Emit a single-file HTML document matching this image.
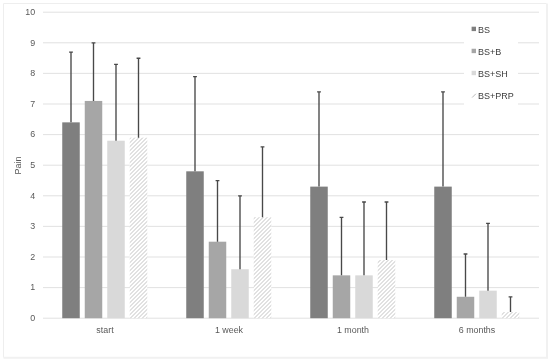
<!DOCTYPE html>
<html><head><meta charset="utf-8"><title>Pain chart</title>
<style>
html,body{margin:0;padding:0;background:#fff;}
svg{display:block;font-family:"Liberation Sans",Arial,sans-serif;}
</style></head><body>
<svg width="550" height="361" viewBox="0 0 550 361">
<defs>
<pattern id="h" width="4" height="4" patternUnits="userSpaceOnUse" patternTransform="translate(0.5 0)">
<rect width="4" height="4" fill="#fff"/>
<path d="M-1,1 l2,-2 M0,4 l4,-4 M3,5 l2,-2" stroke="#b2b2b2" stroke-width="0.8" fill="none"/>
</pattern>
</defs>
<rect width="550" height="361" fill="#fff"/>
<path d="M3.5,357.5 V3.5 H546.5" fill="none" stroke="#eeeeee" stroke-width="1"/>
<path d="M547,3.5 V357.7 H3.5" fill="none" stroke="#f1f1f1" stroke-width="2"/>

<g stroke="#dedede" stroke-width="0.9">
<line x1="43" y1="318.20" x2="539" y2="318.20"/>
<line x1="43" y1="287.60" x2="539" y2="287.60"/>
<line x1="43" y1="257.00" x2="539" y2="257.00"/>
<line x1="43" y1="226.40" x2="539" y2="226.40"/>
<line x1="43" y1="195.80" x2="539" y2="195.80"/>
<line x1="43" y1="165.20" x2="539" y2="165.20"/>
<line x1="43" y1="134.60" x2="539" y2="134.60"/>
<line x1="43" y1="104.00" x2="539" y2="104.00"/>
<line x1="43" y1="73.40" x2="539" y2="73.40"/>
<line x1="43" y1="42.80" x2="539" y2="42.80"/>
<line x1="43" y1="12.20" x2="539" y2="12.20"/>
</g>
<rect x="464" y="20" width="54" height="100" fill="#fff"/>
<g font-size="8.9" fill="#595959" text-anchor="end">
<text x="35.2" y="320.90">0</text>
<text x="35.2" y="290.30">1</text>
<text x="35.2" y="259.70">2</text>
<text x="35.2" y="229.10">3</text>
<text x="35.2" y="198.50">4</text>
<text x="35.2" y="167.90">5</text>
<text x="35.2" y="137.30">6</text>
<text x="35.2" y="106.70">7</text>
<text x="35.2" y="76.10">8</text>
<text x="35.2" y="45.50">9</text>
<text x="35.2" y="14.90">10</text>
</g>
<text font-size="8.9" fill="#595959" text-anchor="middle" transform="translate(20.8 165.5) rotate(-90)">Pain</text>
<rect x="62.25" y="122.36" width="17.5" height="195.84" fill="#7f7f7f"/>
<rect x="84.75" y="100.94" width="17.5" height="217.26" fill="#a6a6a6"/>
<rect x="107.25" y="140.72" width="17.5" height="177.48" fill="#d9d9d9"/>
<rect x="129.75" y="137.66" width="17.5" height="180.54" fill="url(#h)"/>
<rect x="186.25" y="171.32" width="17.5" height="146.88" fill="#7f7f7f"/>
<rect x="208.75" y="241.70" width="17.5" height="76.50" fill="#a6a6a6"/>
<rect x="231.25" y="269.24" width="17.5" height="48.96" fill="#d9d9d9"/>
<rect x="253.75" y="217.22" width="17.5" height="100.98" fill="url(#h)"/>
<rect x="310.25" y="186.62" width="17.5" height="131.58" fill="#7f7f7f"/>
<rect x="332.75" y="275.36" width="17.5" height="42.84" fill="#a6a6a6"/>
<rect x="355.25" y="275.36" width="17.5" height="42.84" fill="#d9d9d9"/>
<rect x="377.75" y="260.06" width="17.5" height="58.14" fill="url(#h)"/>
<rect x="434.25" y="186.62" width="17.5" height="131.58" fill="#7f7f7f"/>
<rect x="456.75" y="296.78" width="17.5" height="21.42" fill="#a6a6a6"/>
<rect x="479.25" y="290.66" width="17.5" height="27.54" fill="#d9d9d9"/>
<rect x="501.75" y="312.08" width="17.5" height="6.12" fill="url(#h)"/>
<g stroke="#484848" stroke-width="1.35" fill="none">
<path d="M71.00,122.36 V51.98 M69.10,52.08 H72.90"/>
<path d="M93.50,100.94 V42.80 M91.60,42.90 H95.40"/>
<path d="M116.00,140.72 V64.22 M114.10,64.32 H117.90"/>
<path d="M138.50,137.66 V58.10 M136.60,58.20 H140.40"/>
<path d="M195.00,171.32 V76.46 M193.10,76.56 H196.90"/>
<path d="M217.50,241.70 V180.50 M215.60,180.60 H219.40"/>
<path d="M240.00,269.24 V195.80 M238.10,195.90 H241.90"/>
<path d="M262.50,217.22 V146.84 M260.60,146.94 H264.40"/>
<path d="M319.00,186.62 V91.76 M317.10,91.86 H320.90"/>
<path d="M341.50,275.36 V217.22 M339.60,217.32 H343.40"/>
<path d="M364.00,275.36 V201.92 M362.10,202.02 H365.90"/>
<path d="M386.50,260.06 V201.92 M384.60,202.02 H388.40"/>
<path d="M443.00,186.62 V91.76 M441.10,91.86 H444.90"/>
<path d="M465.50,296.78 V253.94 M463.60,254.04 H467.40"/>
<path d="M488.00,290.66 V223.34 M486.10,223.44 H489.90"/>
<path d="M510.50,312.08 V296.78 M508.60,296.88 H512.40"/>
</g>
<g font-size="8.9" fill="#595959" text-anchor="middle">
<text x="105.0" y="332.5">start</text>
<text x="229.0" y="332.5">1 week</text>
<text x="353.0" y="332.5">1 month</text>
<text x="477.0" y="332.5">6 months</text>
</g>
<g font-size="9" fill="#3c3c3c">
<rect x="471.6" y="26.70" width="4.4" height="4.4" fill="#7f7f7f"/>
<text x="478" y="32.50">BS</text>
<rect x="471.6" y="48.75" width="4.4" height="4.4" fill="#a6a6a6"/>
<text x="478" y="54.55">BS+B</text>
<rect x="471.6" y="70.80" width="4.4" height="4.4" fill="#d9d9d9"/>
<text x="478" y="76.60">BS+SH</text>
<path d="M472.1,97.55 L475.9,93.75" stroke="#b2b2b2" stroke-width="0.9" fill="none"/>
<text x="478" y="98.65">BS+PRP</text>
</g>
</svg></body></html>
